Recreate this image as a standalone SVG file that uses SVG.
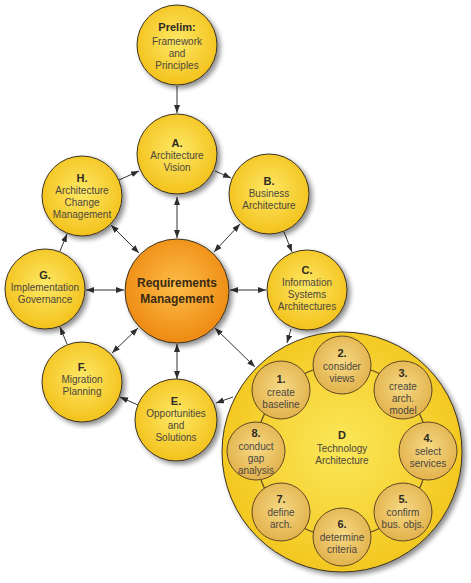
<svg xmlns="http://www.w3.org/2000/svg" width="471" height="583" viewBox="0 0 471 583">
<defs>
<radialGradient id="gy" cx="50%" cy="45%" r="55%">
<stop offset="0" stop-color="#fde866"/>
<stop offset="1" stop-color="#f3c21c"/>
</radialGradient>
<radialGradient id="go" cx="50%" cy="45%" r="55%">
<stop offset="0" stop-color="#fcbd48"/>
<stop offset="1" stop-color="#ee8a12"/>
</radialGradient>
<radialGradient id="gd" cx="50%" cy="48%" r="55%">
<stop offset="0" stop-color="#fbe85a"/>
<stop offset="1" stop-color="#f3c51c"/>
</radialGradient>
<radialGradient id="gs" cx="50%" cy="45%" r="55%">
<stop offset="0" stop-color="#f6d985"/>
<stop offset="1" stop-color="#e2b24c"/>
</radialGradient>
<filter id="sh" x="-20%" y="-20%" width="150%" height="150%">
<feGaussianBlur in="SourceAlpha" stdDeviation="2.5"/>
<feOffset dx="3" dy="3" result="b"/>
<feComponentTransfer><feFuncA type="linear" slope="0.45"/></feComponentTransfer>
<feMerge><feMergeNode/><feMergeNode in="SourceGraphic"/></feMerge>
</filter>
<marker id="ah" viewBox="0 0 8 6" refX="8" refY="3" markerWidth="8" markerHeight="6" markerUnits="userSpaceOnUse" orient="auto-start-reverse">
<path d="M0,0 L8,3 L0,6 z" fill="#2e2e30"/>
</marker>
</defs>
<style>
.n{fill:url(#gy);stroke:#3b3222;stroke-width:1;filter:url(#sh)}
.c{fill:url(#go);stroke:#3b3222;stroke-width:1;filter:url(#sh)}
.d{fill:url(#gd);stroke:#3b3222;stroke-width:1;filter:url(#sh)}
.s{fill:url(#gs);stroke:#5e4726;stroke-width:1}
.ring{fill:none;stroke:#5e4726;stroke-width:1.2}
text{font-family:"Liberation Sans",Arial,sans-serif;text-anchor:middle}
.h{font-size:11px;font-weight:bold;fill:#2f2a24}
.t{font-size:10px;fill:#4d463e}
.big{font-size:12px;font-weight:bold;fill:#3a2a12}
.one{stroke:#333336;stroke-width:1;fill:none;marker-end:url(#ah)}
.two{stroke:#333336;stroke-width:1;fill:none;marker-start:url(#ah);marker-end:url(#ah)}
</style>

<g id="connectors">
<line class="one" x1="177" y1="86" x2="177" y2="113"/>
<line class="one" x1="215" y1="171" x2="231" y2="178"/>
<line class="one" x1="284" y1="232" x2="292" y2="252"/>
<line class="one" x1="291" y1="329" x2="287" y2="343"/>
<line class="one" x1="233" y1="397" x2="216" y2="403"/>
<line class="one" x1="138" y1="405" x2="120" y2="397"/>
<line class="one" x1="67" y1="344" x2="60" y2="327"/>
<line class="one" x1="60" y1="251" x2="67" y2="234"/>
<line class="one" x1="119" y1="180" x2="139" y2="171"/>
<line class="two" x1="177" y1="197" x2="177" y2="238"/>
<line class="two" x1="214" y1="252" x2="240" y2="224"/>
<line class="two" x1="139" y1="253" x2="111" y2="225"/>
<line class="two" x1="124" y1="290" x2="86" y2="290"/>
<line class="two" x1="230" y1="290" x2="266" y2="290"/>
<line class="two" x1="138" y1="328" x2="112" y2="353"/>
<line class="two" x1="177" y1="344" x2="177" y2="379"/>
<line class="two" x1="215" y1="328" x2="255" y2="367"/>
</g>

<g id="prelim">
<circle class="n" cx="177" cy="45" r="40"/>
<text class="h" x="177" y="31">Prelim:</text>
<text class="t" x="177" y="45">Framework</text>
<text class="t" x="177" y="57">and</text>
<text class="t" x="177" y="69">Principles</text>
</g>

<g id="nodeA">
<circle class="n" cx="177" cy="154" r="40"/>
<text class="h" x="177" y="147">A.</text>
<text class="t" x="177" y="159">Architecture</text>
<text class="t" x="177" y="171">Vision</text>
</g>

<g id="nodeB">
<circle class="n" cx="269" cy="194" r="40"/>
<text class="h" x="269" y="185">B.</text>
<text class="t" x="269" y="197">Business</text>
<text class="t" x="269" y="209">Architecture</text>
</g>

<g id="nodeC">
<circle class="n" cx="307" cy="290" r="40"/>
<text class="h" x="307" y="274">C.</text>
<text class="t" x="307" y="286">Information</text>
<text class="t" x="307" y="298">Systems</text>
<text class="t" x="307" y="310">Architectures</text>
</g>

<g id="nodeH">
<circle class="n" cx="82" cy="196" r="40"/>
<text class="h" x="82" y="182">H.</text>
<text class="t" x="82" y="194">Architecture</text>
<text class="t" x="82" y="206">Change</text>
<text class="t" x="82" y="218">Management</text>
</g>

<g id="nodeG">
<circle class="n" cx="45" cy="289" r="40"/>
<text class="h" x="45" y="279">G.</text>
<text class="t" x="45" y="291">Implementation</text>
<text class="t" x="45" y="303">Governance</text>
</g>

<g id="nodeF">
<circle class="n" cx="82" cy="382" r="40"/>
<text class="h" x="82" y="371">F.</text>
<text class="t" x="82" y="383">Migration</text>
<text class="t" x="82" y="395">Planning</text>
</g>

<g id="nodeE">
<circle class="n" cx="176" cy="420" r="41"/>
<text class="h" x="176" y="405">E.</text>
<text class="t" x="176" y="417">Opportunities</text>
<text class="t" x="176" y="429">and</text>
<text class="t" x="176" y="441">Solutions</text>
</g>

<g id="requirements">
<circle class="c" cx="177" cy="291" r="52"/>
<text class="big" x="177" y="287">Requirements</text>
<text class="big" x="177" y="303">Management</text>
</g>

<g id="nodeD">
<circle class="d" cx="342" cy="452" r="120"/>
<circle class="ring" cx="342" cy="451" r="86"/>
<text class="h" x="342" y="439">D</text>
<text class="t" x="342" y="452">Technology</text>
<text class="t" x="342" y="464">Architecture</text>
</g>

<g id="step1">
<circle class="s" cx="281" cy="390" r="29"/>
<text class="h" x="281" y="383">1.</text>
<text class="t" x="281" y="396">create</text>
<text class="t" x="281" y="408">baseline</text>
</g>
<g id="step2">
<circle class="s" cx="342" cy="365" r="29"/>
<text class="h" x="342" y="357">2.</text>
<text class="t" x="342" y="370">consider</text>
<text class="t" x="342" y="382">views</text>
</g>
<g id="step3">
<circle class="s" cx="403" cy="390" r="29"/>
<text class="h" x="403" y="377">3.</text>
<text class="t" x="403" y="390">create</text>
<text class="t" x="403" y="402">arch.</text>
<text class="t" x="403" y="414">model</text>
</g>
<g id="step4">
<circle class="s" cx="428" cy="451" r="29"/>
<text class="h" x="428" y="442">4.</text>
<text class="t" x="428" y="455">select</text>
<text class="t" x="428" y="467">services</text>
</g>
<g id="step5">
<circle class="s" cx="403" cy="512" r="29"/>
<text class="h" x="403" y="503">5.</text>
<text class="t" x="403" y="516">confirm</text>
<text class="t" x="403" y="528">bus. objs.</text>
</g>
<g id="step6">
<circle class="s" cx="342" cy="537" r="29"/>
<text class="h" x="342" y="528">6.</text>
<text class="t" x="342" y="541">determine</text>
<text class="t" x="342" y="553">criteria</text>
</g>
<g id="step7">
<circle class="s" cx="281" cy="512" r="29"/>
<text class="h" x="281" y="503">7.</text>
<text class="t" x="281" y="516">define</text>
<text class="t" x="281" y="528">arch.</text>
</g>
<g id="step8">
<circle class="s" cx="256" cy="451" r="29"/>
<text class="h" x="256" y="437">8.</text>
<text class="t" x="256" y="450">conduct</text>
<text class="t" x="256" y="462">gap</text>
<text class="t" x="256" y="474">analysis</text>
</g>
</svg>
